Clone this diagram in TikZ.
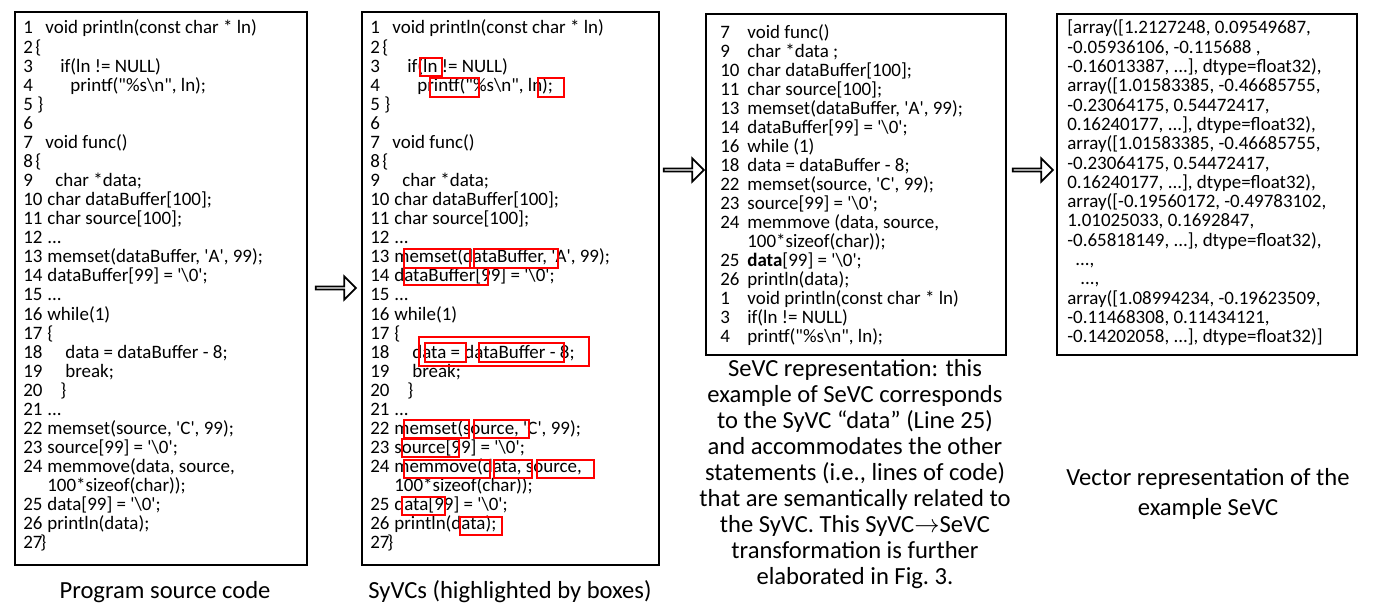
\documentclass[tikz,border=0pt]{standalone}
\usepackage{fontspec}
\setmainfont{Carlito}
\usetikzlibrary{shapes.arrows}
\newcommand{\sq}{\textquotesingle}
\newcommand{\dq}{\textquotedbl}
\tikzset{
  panel/.style={draw, line width=1.2pt},
  code/.style={anchor=base west, inner sep=0pt, font=\fontsize{10.8}{12}\selectfont},
  caption/.style={align=center, font=\fontsize{14}{14.8}\selectfont},
  syvc/.style={draw=red, line width=1.3pt},
  flow/.style={single arrow, draw, line width=1pt, fill=white, minimum height=0.8cm,
    minimum width=0.46cm, single arrow head extend=0.11cm, inner sep=0pt}
}
\begin{document}
\begin{tikzpicture}[x=0.02cm, y=-0.02cm]
\useasboundingbox (0,0) rectangle (1374,611);

% source code panels
\draw[panel] (15,12) rectangle (307,565);
\draw[panel] (362,12) rectangle (659,565);
\foreach \px/\pn in {0/src, 347/syvc} {
  \foreach \n/\dx/\t [count=\r from 0] in {
    1/45/{void println(const char * ln)}, 2/35/{\{}, 3/60/{if(ln != NULL)},
    4/70/{printf(\dq\%s\textbackslash n\dq, ln);}, 5/37/{\}}, 6/45/{}, 7/45/{void func()},
    8/35/{\{}, 9/55/{char *data;}, 10/47/{char dataBuffer[100];},
    11/47/{char source[100];}, 12/47/{...}, 13/47/{memset(dataBuffer, \sq A\sq, 99);},
    14/47/{dataBuffer[99] = \sq\textbackslash0\sq;}, 15/47/{...}, 16/47/{while(1)},
    17/47/{\{}, 18/65/{data = dataBuffer - 8;}, 19/65/{break;}, 20/60/{\}},
    21/47/{...}, 22/47/{memset(source, \sq C\sq, 99);},
    23/47/{source[99] = \sq\textbackslash0\sq;}, 24/47/{memmove(data, source,},
    {}/47/{100*sizeof(char));}, 25/47/{data[99] = \sq\textbackslash0\sq;},
    26/47/{println(data);}, 27/40/{\}}} {
    \node[code] (\pn-n\r) at (23+\px, 34+19.07*\r) {\n};
    \node[code] (\pn-t\r) at (\dx+\px, 34+19.07*\r) {\t};
  }
}

% SyVC boxes
\foreach \xa/\ya/\xb/\yb in {420/58/442/76, 430/78/479/97, 538/78/564/97,
  404/249/470/268, 474/249/558/268, 404/268/488/285, 419/337/589/366,
  425/343/466/362, 479/343/564/362, 404/420/469/438, 474/420/529/438,
  402/439/459/457, 404/460/490/478, 494/460/532/478, 537/460/594/478,
  402/497/445/515, 460/517/502/535}
  \draw[syvc] (\xa,\ya) rectangle (\xb,\yb);

% SeVC panel
\draw[panel] (706,14) rectangle (1006,355);
\foreach \n/\t [count=\r from 0] in {
  7/{void func()}, 9/{char *data ;}, 10/{char dataBuffer[100];},
  11/{char source[100];}, 13/{memset(dataBuffer, \sq A\sq, 99);},
  14/{dataBuffer[99] = \sq\textbackslash0\sq;}, 16/{while (1)},
  18/{data = dataBuffer - 8;}, 22/{memset(source, \sq C\sq, 99);},
  23/{source[99] = \sq\textbackslash0\sq;}, 24/{memmove (data, source,},
  {}/{100*sizeof(char));}, 25/{\textbf{data}[99] = \sq\textbackslash0\sq;},
  26/{println(data);}, 1/{void println(const char * ln)},
  3/{if(ln != NULL)}, 4/{printf(\dq\%s\textbackslash n\dq, ln);}} {
  \node[code] (sevc-n\r) at (720, 39+19*\r) {\n};
  \node[code] (sevc-t\r) at (747, 39+19*\r) {\t};
}

% vector panel
\draw[panel] (1057,14) rectangle (1357,355);
\foreach \dx/\t [count=\r from 0] in {
  0/{[array([1.2127248, 0.09549687,}, 0/{-0.05936106, -0.115688 ,},
  0/{-0.16013387, ...], dtype=float32),}, 0/{array([1.01583385, -0.46685755,},
  0/{-0.23064175, 0.54472417,}, 0/{0.16240177, ...], dtype=float32),},
  0/{array([1.01583385, -0.46685755,}, 0/{-0.23064175, 0.54472417,},
  0/{0.16240177, ...], dtype=float32),}, 0/{array([-0.19560172, -0.49783102,},
  0/{1.01025033, 0.1692847,}, 0/{-0.65818149, ...], dtype=float32),},
  8/{...,}, 13/{...,}, 0/{array([1.08994234, -0.19623509,},
  0/{-0.11468308, 0.11434121,}, 0/{-0.14202058, ...], dtype=float32)]}} {
  \node[code] (vec-t\r) at (1067+\dx, 34+19.3*\r) {\t};
}

% arrows between panels
\node[flow] (a1) at (335,288) {};
\node[flow] (a2) at (683,170) {};
\node[flow] (a3) at (1032,170) {};

% captions
\node[caption] (c1) at (165,592) {Program source code};
\node[caption] (c2) at (510,592) {SyVCs (highlighted by boxes)};
\node[caption] (c3) at (855,474) {SeVC representation: this\\
  example of SeVC corresponds\\ to the SyVC ``data'' (Line 25)\\
  and accommodates the other\\ statements (i.e., lines of code)\\
  that are semantically related to\\ the SyVC. This SyVC$\rightarrow$SeVC\\
  transformation is further\\ elaborated in Fig.~3.};
\node[caption, font=\fontsize{14}{17}\selectfont] (c4) at (1208,494)
  {Vector representation of the\\example SeVC};
\end{tikzpicture}
\end{document}
